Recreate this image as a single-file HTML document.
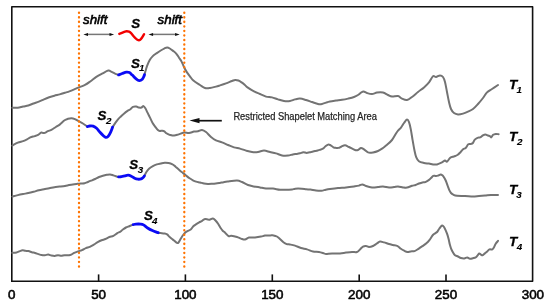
<!DOCTYPE html>
<html><head><meta charset="utf-8">
<style>
html,body{margin:0;padding:0;background:#fff;}
body{width:550px;height:306px;overflow:hidden;}
svg{display:block;}
.g{fill:none;stroke:#737373;stroke-width:2;stroke-linejoin:round;stroke-linecap:round;}
.b{fill:none;stroke:#0a0af5;stroke-width:2.8;stroke-linejoin:round;stroke-linecap:round;}
.ax{stroke:#111;stroke-width:1.6;fill:none;}
.tl{font-family:"Liberation Sans",Arial,sans-serif;font-size:13.4px;text-anchor:middle;fill:#000;stroke:#000;stroke-width:0.55px;}
.sh{font-family:"Liberation Sans",Arial,sans-serif;font-size:13.3px;font-style:italic;fill:#000;stroke:#000;stroke-width:0.6px;}
.lb{font-family:"Liberation Sans",Arial,sans-serif;font-size:13.3px;font-weight:bold;font-style:italic;fill:#000;stroke:#000;stroke-width:0.3px;}
.lb .sub{font-style:italic;}
.lt{font-family:"Liberation Sans",Arial,sans-serif;font-size:13.5px;font-weight:bold;font-style:italic;fill:#000;stroke:#000;stroke-width:0.3px;}
.lt .sub{font-style:italic;}
.sub{font-size:9.8px;font-style:normal;font-weight:bold;stroke-width:0.1px;}
.rs{font-family:"Liberation Sans",Arial,sans-serif;font-size:10px;fill:#262626;stroke:#262626;stroke-width:0.25px;}
.dot{stroke:#ff7300;stroke-width:2.3;stroke-dasharray:0.25 4.28;stroke-linecap:round;fill:none;}
</style></head>
<body>
<svg width="550" height="306" viewBox="0 0 550 306">
<rect x="0" y="0" width="550" height="306" fill="#fff"/>
<path d="M11.8 282 V6.8 H532.6 V281.2 H11.8" class="ax" stroke-width="1.8" stroke-linejoin="round"/>
<line x1="98.6" y1="274.4" x2="98.6" y2="281" class="ax" stroke-width="1.5"/>
<line x1="185.4" y1="274.4" x2="185.4" y2="281" class="ax" stroke-width="1.5"/>
<line x1="272.3" y1="274.4" x2="272.3" y2="281" class="ax" stroke-width="1.5"/>
<line x1="359.2" y1="274.4" x2="359.2" y2="281" class="ax" stroke-width="1.5"/>
<line x1="446.0" y1="274.4" x2="446.0" y2="281" class="ax" stroke-width="1.5"/>
<text x="11.7" y="298.5" class="tl">0</text>
<text x="98.6" y="298.5" class="tl">50</text>
<text x="185.4" y="298.5" class="tl">100</text>
<text x="272.3" y="298.5" class="tl">150</text>
<text x="359.2" y="298.5" class="tl">200</text>
<text x="446.0" y="298.5" class="tl">250</text>
<text x="532.9" y="298.5" class="tl">300</text>
<path class="g" d="M12.3 107.7 C13.22 107.70 16.00 107.90 17.8 107.7 C19.60 107.50 21.35 106.87 23.1 106.5 C24.85 106.13 26.57 106.00 28.3 105.5 C30.03 105.00 31.75 104.15 33.5 103.5 C35.25 102.85 37.05 102.30 38.8 101.6 C40.55 100.90 42.27 100.02 44 99.3 C45.73 98.58 47.47 97.90 49.2 97.3 C50.93 96.70 52.65 96.18 54.4 95.7 C56.15 95.22 57.95 94.88 59.7 94.4 C61.45 93.92 63.18 93.35 64.9 92.8 C66.62 92.25 67.65 92.02 70 91.1 C72.35 90.18 76.50 88.33 79 87.3 C81.50 86.27 83.07 85.92 85 84.9 C86.93 83.88 88.72 82.53 90.6 81.2 C92.48 79.87 94.40 78.15 96.3 76.9 C98.20 75.65 100.00 74.75 102 73.7 C104.00 72.65 106.72 70.92 108.3 70.6 C109.88 70.28 110.38 71.30 111.5 71.8 C112.62 72.30 113.82 73.08 115 73.6 C116.18 74.12 118.00 74.68 118.6 74.9"/>
<path class="g" d="M144.5 74.6 C144.62 74.18 144.78 73.50 145.2 72.1 C145.62 70.70 146.27 68.17 147 66.2 C147.73 64.23 148.63 61.98 149.6 60.3 C150.57 58.62 151.60 57.30 152.8 56.1 C154.00 54.90 155.48 54.03 156.8 53.1 C158.12 52.17 159.40 51.30 160.7 50.5 C162.00 49.70 163.52 48.80 164.6 48.3 C165.68 47.80 166.33 47.47 167.2 47.5 C168.07 47.53 168.82 47.93 169.8 48.5 C170.78 49.07 172.00 50.02 173.1 50.9 C174.20 51.78 175.42 52.67 176.4 53.8 C177.38 54.93 178.13 56.40 179 57.7 C179.87 59.00 180.73 59.97 181.6 61.6 C182.47 63.23 183.33 65.75 184.2 67.5 C185.07 69.25 185.82 70.58 186.8 72.1 C187.78 73.62 189.00 75.18 190.1 76.6 C191.20 78.02 191.75 79.20 193.4 80.6 C195.05 82.00 198.07 83.77 200 85 C201.93 86.23 203.33 87.50 205 88 C206.67 88.50 208.17 88.23 210 88 C211.83 87.77 214.33 87.03 216 86.6 C217.67 86.17 218.33 85.93 220 85.4 C221.67 84.87 224.00 84.13 226 83.4 C228.00 82.67 230.48 81.58 232 81 C233.52 80.42 234.03 79.98 235.1 79.9 C236.17 79.82 237.32 80.08 238.4 80.5 C239.48 80.92 240.52 81.65 241.6 82.4 C242.68 83.15 243.92 84.17 244.9 85 C245.88 85.83 245.98 86.33 247.5 87.4 C249.02 88.47 251.92 90.30 254 91.4 C256.08 92.50 258.00 93.13 260 94 C262.00 94.87 264.00 96.03 266 96.6 C268.00 97.17 270.00 96.93 272 97.4 C274.00 97.87 276.00 98.80 278 99.4 C280.00 100.00 282.00 100.73 284 101 C286.00 101.27 288.17 101.27 290 101 C291.83 100.73 293.33 99.80 295 99.4 C296.67 99.00 298.17 98.50 300 98.6 C301.83 98.70 304.00 99.43 306 100 C308.00 100.57 310.00 101.33 312 102 C314.00 102.67 316.33 103.67 318 104 C319.67 104.33 320.67 104.23 322 104 C323.33 103.77 324.67 103.02 326 102.6 C327.33 102.18 328.33 101.83 330 101.5 C331.67 101.17 334.00 100.88 336 100.6 C338.00 100.32 340.00 100.13 342 99.8 C344.00 99.47 346.00 99.07 348 98.6 C350.00 98.13 352.33 97.60 354 97 C355.67 96.40 356.83 95.73 358 95 C359.17 94.27 360.07 93.20 361 92.6 C361.93 92.00 362.60 91.33 363.6 91.4 C364.60 91.47 365.60 92.57 367 93 C368.40 93.43 370.33 94.07 372 94 C373.67 93.93 375.17 92.83 377 92.6 C378.83 92.37 381.17 92.20 383 92.6 C384.83 93.00 386.50 94.33 388 95 C389.50 95.67 390.33 96.43 392 96.6 C393.67 96.77 396.33 95.67 398 96 C399.67 96.33 400.50 97.93 402 98.6 C403.50 99.27 405.33 100.27 407 100 C408.67 99.73 410.17 98.33 412 97 C413.83 95.67 416.00 93.60 418 92 C420.00 90.40 422.17 89.00 424 87.4 C425.83 85.80 427.50 84.27 429 82.4 C430.50 80.53 431.83 77.10 433 76.2 C434.17 75.30 434.83 77.13 436 77 C437.17 76.87 438.83 75.40 440 75.4 C441.17 75.40 442.17 75.90 443 77 C443.83 78.10 444.33 79.50 445 82 C445.67 84.50 446.33 88.67 447 92 C447.67 95.33 448.33 99.17 449 102 C449.67 104.83 450.17 107.17 451 109 C451.83 110.83 452.83 112.10 454 113 C455.17 113.90 456.50 114.30 458 114.4 C459.50 114.50 461.33 114.07 463 113.6 C464.67 113.13 466.33 112.37 468 111.6 C469.67 110.83 471.33 110.27 473 109 C474.67 107.73 476.33 105.83 478 104 C479.67 102.17 481.50 99.93 483 98 C484.50 96.07 485.50 93.90 487 92.4 C488.50 90.90 490.17 90.23 492 89 C493.83 87.77 497.00 85.67 498 85"/>
<path class="b" d="M118.6 74.9 C119.20 74.67 120.88 73.97 122.2 73.5 C123.52 73.03 125.30 72.25 126.5 72.1 C127.70 71.95 128.43 72.10 129.4 72.6 C130.37 73.10 131.22 74.08 132.3 75.1 C133.38 76.12 134.73 77.77 135.9 78.7 C137.07 79.63 138.23 80.60 139.3 80.7 C140.37 80.80 141.52 80.05 142.3 79.3 C143.08 78.55 143.63 76.98 144 76.2 C144.37 75.42 144.42 74.87 144.5 74.6"/>
<path class="g" d="M12.3 145.6 C13.22 145.12 16.00 143.45 17.8 142.7 C19.60 141.95 21.57 141.65 23.1 141.1 C24.63 140.55 25.80 140.02 27 139.4 C28.20 138.78 29.00 137.95 30.3 137.4 C31.60 136.85 33.50 136.53 34.8 136.1 C36.10 135.67 37.00 135.40 38.1 134.8 C39.20 134.20 40.42 132.78 41.4 132.5 C42.38 132.22 42.92 133.32 44 133.1 C45.08 132.88 46.60 131.78 47.9 131.2 C49.20 130.62 50.48 130.30 51.8 129.6 C53.12 128.90 54.48 127.83 55.8 127 C57.12 126.17 58.23 125.72 59.7 124.6 C61.17 123.48 63.22 121.27 64.6 120.3 C65.98 119.33 66.87 119.15 68 118.8 C69.13 118.45 70.25 118.15 71.4 118.2 C72.55 118.25 73.65 118.57 74.9 119.1 C76.15 119.63 77.57 120.67 78.9 121.4 C80.23 122.13 81.48 122.63 82.9 123.5 C84.32 124.37 86.65 126.08 87.4 126.6"/>
<path class="g" d="M112.6 127.1 C113.08 126.35 114.60 123.90 115.5 122.6 C116.40 121.30 117.15 120.28 118 119.3 C118.85 118.32 119.62 117.63 120.6 116.7 C121.58 115.77 122.80 114.63 123.9 113.7 C125.00 112.77 126.12 111.85 127.2 111.1 C128.28 110.35 129.43 109.92 130.4 109.2 C131.37 108.48 132.02 107.25 133 106.8 C133.98 106.35 135.32 106.37 136.3 106.5 C137.28 106.63 138.03 107.43 138.9 107.6 C139.77 107.77 140.73 107.75 141.5 107.5 C142.27 107.25 142.83 105.93 143.5 106.1 C144.17 106.27 144.85 107.45 145.5 108.5 C146.15 109.55 146.65 110.88 147.4 112.4 C148.15 113.92 149.13 115.85 150 117.6 C150.87 119.35 151.72 121.37 152.6 122.9 C153.48 124.43 154.42 125.60 155.3 126.8 C156.18 128.00 157.15 129.40 157.9 130.1 C158.65 130.80 159.05 130.90 159.8 131 C160.55 131.10 161.63 130.63 162.4 130.7 C163.17 130.77 163.73 130.97 164.4 131.4 C165.07 131.83 165.63 132.77 166.4 133.3 C167.17 133.83 168.13 134.27 169 134.6 C169.87 134.93 170.73 135.13 171.6 135.3 C172.47 135.47 173.13 135.72 174.2 135.6 C175.27 135.48 176.37 135.10 178 134.6 C179.63 134.10 182.17 132.87 184 132.6 C185.83 132.33 187.33 133.17 189 133 C190.67 132.83 192.50 131.90 194 131.6 C195.50 131.30 196.67 131.47 198 131.2 C199.33 130.93 200.67 129.87 202 130 C203.33 130.13 204.50 130.83 206 132 C207.50 133.17 209.33 135.60 211 137 C212.67 138.40 214.17 139.50 216 140.4 C217.83 141.30 220.00 141.63 222 142.4 C224.00 143.17 226.00 144.17 228 145 C230.00 145.83 232.00 146.80 234 147.4 C236.00 148.00 238.00 148.07 240 148.6 C242.00 149.13 244.00 150.03 246 150.6 C248.00 151.17 250.00 151.77 252 152 C254.00 152.23 256.00 152.23 258 152 C260.00 151.77 262.00 150.60 264 150.6 C266.00 150.60 268.00 151.53 270 152 C272.00 152.47 274.00 152.83 276 153.4 C278.00 153.97 280.00 155.05 282 155.4 C284.00 155.75 286.20 155.67 288 155.5 C289.80 155.33 291.33 154.67 292.8 154.4 C294.27 154.13 295.60 154.08 296.8 153.9 C298.00 153.72 298.92 153.58 300 153.3 C301.08 153.02 302.20 152.27 303.3 152.2 C304.40 152.13 305.52 152.90 306.6 152.9 C307.68 152.90 308.72 152.42 309.8 152.2 C310.88 151.98 312.00 151.85 313.1 151.6 C314.20 151.35 315.32 150.98 316.4 150.7 C317.48 150.42 318.52 150.23 319.6 149.9 C320.68 149.57 321.92 149.30 322.9 148.7 C323.88 148.10 324.63 146.98 325.5 146.3 C326.37 145.62 327.33 144.82 328.1 144.6 C328.87 144.38 329.22 144.55 330.1 145 C330.98 145.45 332.42 146.82 333.4 147.3 C334.38 147.78 335.13 147.80 336 147.9 C336.87 148.00 337.73 148.10 338.6 147.9 C339.47 147.70 340.13 147.13 341.2 146.7 C342.27 146.27 343.70 145.25 345 145.3 C346.30 145.35 347.33 146.22 349 147 C350.67 147.78 353.50 149.50 355 150 C356.50 150.50 357.00 150.33 358 150 C359.00 149.67 360.00 148.10 361 148 C362.00 147.90 362.83 148.67 364 149.4 C365.17 150.13 366.50 151.90 368 152.4 C369.50 152.90 371.33 152.63 373 152.4 C374.67 152.17 376.33 151.73 378 151 C379.67 150.27 381.67 148.90 383 148 C384.33 147.10 384.50 146.93 386 145.6 C387.50 144.27 390.17 142.27 392 140 C393.83 137.73 395.50 134.07 397 132 C398.50 129.93 399.83 129.10 401 127.6 C402.17 126.10 403.00 124.33 404 123 C405.00 121.67 406.17 119.73 407 119.6 C407.83 119.47 408.37 120.57 409 122.2 C409.63 123.83 410.20 126.42 410.8 129.4 C411.40 132.38 412.00 136.67 412.6 140.1 C413.20 143.53 413.80 147.15 414.4 150 C415.00 152.85 415.45 155.32 416.2 157.2 C416.95 159.08 417.60 160.33 418.9 161.3 C420.20 162.27 422.32 162.62 424 163 C425.68 163.38 427.50 163.37 429 163.6 C430.50 163.83 431.67 164.27 433 164.4 C434.33 164.53 435.50 164.73 437 164.4 C438.50 164.07 440.67 163.07 442 162.4 C443.33 161.73 444.17 160.53 445 160.4 C445.83 160.27 446.17 162.02 447 161.6 C447.83 161.18 449.07 158.70 450 157.9 C450.93 157.10 451.73 157.12 452.6 156.8 C453.47 156.48 454.33 156.33 455.2 156 C456.07 155.67 456.92 155.43 457.8 154.8 C458.68 154.17 459.62 153.13 460.5 152.2 C461.38 151.27 462.23 149.92 463.1 149.2 C463.97 148.48 464.83 148.72 465.7 147.9 C466.57 147.08 467.43 144.95 468.3 144.3 C469.17 143.65 470.13 144.22 470.9 144 C471.67 143.78 472.25 143.73 472.9 143 C473.55 142.27 474.03 140.47 474.8 139.6 C475.57 138.73 476.62 138.17 477.5 137.8 C478.38 137.43 479.23 137.78 480.1 137.4 C480.97 137.02 481.83 135.98 482.7 135.5 C483.57 135.02 484.43 134.50 485.3 134.5 C486.17 134.50 487.13 135.23 487.9 135.5 C488.67 135.77 489.35 135.78 489.9 136.1 C490.45 136.42 490.67 137.62 491.2 137.4 C491.73 137.18 492.33 135.38 493.1 134.8 C493.87 134.22 494.88 134.00 495.8 133.9 C496.72 133.80 498.13 134.15 498.6 134.2"/>
<path class="b" d="M87.4 126.6 C87.78 126.50 88.75 126.07 89.7 126 C90.65 125.93 91.95 125.82 93.1 126.2 C94.25 126.58 95.45 127.28 96.6 128.3 C97.75 129.32 98.87 131.07 100 132.3 C101.13 133.53 102.45 134.85 103.4 135.7 C104.35 136.55 104.93 137.27 105.7 137.4 C106.47 137.53 107.23 137.25 108 136.5 C108.77 135.75 109.53 134.47 110.3 132.9 C111.07 131.33 112.22 128.07 112.6 127.1"/>
<path class="g" d="M12.3 196.6 C13.22 196.35 16.00 195.53 17.8 195.1 C19.60 194.67 21.35 194.33 23.1 194 C24.85 193.67 26.57 193.47 28.3 193.1 C30.03 192.73 31.75 192.28 33.5 191.8 C35.25 191.32 37.05 190.63 38.8 190.2 C40.55 189.77 42.27 189.52 44 189.2 C45.73 188.88 47.47 188.63 49.2 188.3 C50.93 187.97 52.65 187.48 54.4 187.2 C56.15 186.92 57.93 186.82 59.7 186.6 C61.47 186.38 63.47 186.15 65 185.9 C66.53 185.65 67.60 185.35 68.9 185.1 C70.20 184.85 71.48 184.60 72.8 184.4 C74.12 184.20 75.48 184.05 76.8 183.9 C78.12 183.75 79.40 183.60 80.7 183.5 C82.00 183.40 83.40 183.55 84.6 183.3 C85.80 183.05 86.82 182.43 87.9 182 C88.98 181.57 89.90 181.20 91.1 180.7 C92.30 180.20 93.78 179.62 95.1 179 C96.42 178.38 97.70 177.55 99 177 C100.30 176.45 101.60 176.07 102.9 175.7 C104.20 175.33 105.60 175.02 106.8 174.8 C108.00 174.58 109.00 174.30 110.1 174.4 C111.20 174.50 112.32 175.05 113.4 175.4 C114.48 175.75 115.73 176.25 116.6 176.5 C117.47 176.75 118.27 176.83 118.6 176.9"/>
<path class="g" d="M144.4 175.9 C144.73 175.25 145.63 173.20 146.4 172 C147.17 170.80 147.92 169.68 149 168.7 C150.08 167.72 151.60 166.82 152.9 166.1 C154.20 165.38 155.48 164.83 156.8 164.4 C158.12 163.97 159.48 163.77 160.8 163.5 C162.12 163.23 163.40 162.87 164.7 162.8 C166.00 162.73 167.30 162.83 168.6 163.1 C169.90 163.37 171.43 163.90 172.5 164.4 C173.57 164.90 174.33 165.57 175 166.1 C175.67 166.63 175.70 166.87 176.5 167.6 C177.30 168.33 178.70 169.58 179.8 170.5 C180.90 171.42 182.02 172.23 183.1 173.1 C184.18 173.97 185.22 174.83 186.3 175.7 C187.38 176.57 188.50 177.53 189.6 178.3 C190.70 179.07 191.82 179.75 192.9 180.3 C193.98 180.85 194.90 181.23 196.1 181.6 C197.30 181.97 198.78 182.18 200.1 182.5 C201.42 182.82 202.70 183.27 204 183.5 C205.30 183.73 206.60 183.85 207.9 183.9 C209.20 183.95 210.48 183.87 211.8 183.8 C213.12 183.73 214.48 183.65 215.8 183.5 C217.12 183.35 218.40 183.12 219.7 182.9 C221.00 182.68 222.30 182.42 223.6 182.2 C224.90 181.98 225.27 181.87 227.5 181.6 C229.73 181.33 234.58 180.53 237 180.6 C239.42 180.67 240.17 181.27 242 182 C243.83 182.73 246.00 184.27 248 185 C250.00 185.73 252.00 186.00 254 186.4 C256.00 186.80 258.00 187.07 260 187.4 C262.00 187.73 263.83 188.20 266 188.4 C268.17 188.60 270.67 188.38 273 188.6 C275.33 188.82 277.75 189.52 280 189.7 C282.25 189.88 284.50 189.72 286.5 189.7 C288.50 189.68 290.53 189.77 292 189.6 C293.47 189.43 293.67 188.85 295.3 188.7 C296.93 188.55 299.98 188.60 301.8 188.7 C303.62 188.80 304.75 189.15 306.2 189.3 C307.65 189.45 308.87 189.40 310.5 189.6 C312.13 189.80 314.18 190.32 316 190.5 C317.82 190.68 319.77 190.83 321.4 190.7 C323.03 190.57 324.37 189.98 325.8 189.7 C327.23 189.42 327.97 189.28 330 189 C332.03 188.72 335.33 188.27 338 188 C340.67 187.73 343.33 187.67 346 187.4 C348.67 187.13 351.83 186.70 354 186.4 C356.17 186.10 357.60 185.93 359 185.6 C360.40 185.27 361.23 184.33 362.4 184.4 C363.57 184.47 364.40 185.50 366 186 C367.60 186.50 370.00 187.23 372 187.4 C374.00 187.57 376.17 187.17 378 187 C379.83 186.83 381.17 186.33 383 186.4 C384.83 186.47 387.17 187.30 389 187.4 C390.83 187.50 392.50 187.17 394 187 C395.50 186.83 396.50 186.33 398 186.4 C399.50 186.47 401.50 187.20 403 187.4 C404.50 187.60 405.48 187.87 407 187.6 C408.52 187.33 410.67 186.23 412.1 185.8 C413.53 185.37 414.45 185.38 415.6 185 C416.75 184.62 417.87 183.93 419 183.5 C420.13 183.07 421.35 182.63 422.4 182.4 C423.45 182.17 424.25 182.48 425.3 182.1 C426.35 181.72 427.75 180.77 428.7 180.1 C429.65 179.43 430.23 178.80 431 178.1 C431.77 177.40 432.53 176.27 433.3 175.9 C434.07 175.53 434.83 175.95 435.6 175.9 C436.37 175.85 437.05 175.85 437.9 175.6 C438.75 175.35 439.95 174.45 440.7 174.4 C441.45 174.35 441.83 174.77 442.4 175.3 C442.97 175.83 443.52 176.65 444.1 177.6 C444.68 178.55 445.32 179.67 445.9 181 C446.48 182.33 447.03 184.08 447.6 185.6 C448.17 187.12 448.73 188.87 449.3 190.1 C449.87 191.33 450.33 192.23 451 193 C451.67 193.77 452.30 194.23 453.3 194.7 C454.30 195.17 455.05 195.58 457 195.8 C458.95 196.02 462.33 195.87 465 196 C467.67 196.13 470.67 196.60 473 196.6 C475.33 196.60 477.00 196.17 479 196 C481.00 195.83 483.00 195.77 485 195.6 C487.00 195.43 488.83 195.10 491 195 C493.17 194.90 496.83 195.00 498 195"/>
<path class="b" d="M118.6 176.9 C119.08 176.85 120.47 176.77 121.5 176.6 C122.53 176.43 123.70 176.13 124.8 175.9 C125.90 175.67 127.02 175.15 128.1 175.2 C129.18 175.25 130.22 175.68 131.3 176.2 C132.38 176.72 133.50 177.80 134.6 178.3 C135.70 178.80 136.82 179.10 137.9 179.2 C138.98 179.30 140.23 179.18 141.1 178.9 C141.97 178.62 142.55 178.00 143.1 177.5 C143.65 177.00 144.18 176.17 144.4 175.9"/>
<path class="g" d="M12.3 252.8 C13.00 252.73 15.25 252.68 16.5 252.4 C17.75 252.12 18.80 251.45 19.8 251.1 C20.80 250.75 21.58 250.35 22.5 250.3 C23.42 250.25 24.30 250.67 25.3 250.8 C26.30 250.93 27.42 250.87 28.5 251.1 C29.58 251.33 30.70 251.88 31.8 252.2 C32.90 252.52 34.00 252.68 35.1 253 C36.20 253.32 37.32 253.77 38.4 254.1 C39.48 254.43 40.52 254.82 41.6 255 C42.68 255.18 43.80 255.27 44.9 255.2 C46.00 255.13 47.12 254.55 48.2 254.6 C49.28 254.65 50.32 255.28 51.4 255.5 C52.48 255.72 53.60 255.95 54.7 255.9 C55.80 255.85 56.90 255.23 58 255.2 C59.10 255.17 60.22 255.70 61.3 255.7 C62.38 255.70 63.02 255.32 64.5 255.2 C65.98 255.08 68.58 255.38 70.2 255 C71.82 254.62 72.88 253.50 74.2 252.9 C75.52 252.30 76.80 251.87 78.1 251.4 C79.40 250.93 80.70 250.65 82 250.1 C83.30 249.55 84.60 248.65 85.9 248.1 C87.20 247.55 88.48 247.38 89.8 246.8 C91.12 246.22 92.48 245.37 93.8 244.6 C95.12 243.83 96.40 242.92 97.7 242.2 C99.00 241.48 100.30 240.83 101.6 240.3 C102.90 239.77 104.20 239.55 105.5 239 C106.80 238.45 108.08 237.52 109.4 237 C110.72 236.48 112.08 236.55 113.4 235.9 C114.72 235.25 116.20 233.78 117.3 233.1 C118.40 232.42 119.12 232.35 120 231.8 C120.88 231.25 121.62 230.52 122.6 229.8 C123.58 229.08 124.80 228.10 125.9 227.5 C127.00 226.90 128.12 226.63 129.2 226.2 C130.28 225.77 131.87 225.12 132.4 224.9"/>
<path class="g" d="M157.9 232.7 C158.33 232.77 159.42 232.97 160.5 233.1 C161.58 233.23 163.30 233.28 164.4 233.5 C165.50 233.72 166.22 233.82 167.1 234.4 C167.98 234.98 168.73 236.13 169.7 237 C170.67 237.87 171.82 238.72 172.9 239.6 C173.98 240.48 175.32 241.75 176.2 242.3 C177.08 242.85 177.42 243.53 178.2 242.9 C178.98 242.27 180.13 239.73 180.9 238.5 C181.67 237.27 182.15 236.43 182.8 235.5 C183.45 234.57 184.03 233.62 184.8 232.9 C185.57 232.18 186.42 231.75 187.4 231.2 C188.38 230.65 189.72 230.42 190.7 229.6 C191.68 228.78 192.43 227.17 193.3 226.3 C194.17 225.43 194.92 225.05 195.9 224.4 C196.88 223.75 198.22 222.95 199.2 222.4 C200.18 221.85 200.93 221.63 201.8 221.1 C202.67 220.57 203.42 219.48 204.4 219.2 C205.38 218.92 206.83 219.30 207.7 219.4 C208.57 219.50 208.73 219.95 209.6 219.8 C210.47 219.65 211.92 218.38 212.9 218.5 C213.88 218.62 214.63 219.63 215.5 220.5 C216.37 221.37 217.22 222.40 218.1 223.7 C218.98 225.00 220.03 227.13 220.8 228.3 C221.57 229.47 221.95 229.93 222.7 230.7 C223.45 231.47 224.32 232.00 225.3 232.9 C226.28 233.80 227.62 235.62 228.6 236.1 C229.58 236.58 229.80 235.65 231.2 235.8 C232.60 235.95 235.37 236.53 237 237 C238.63 237.47 239.67 238.17 241 238.6 C242.33 239.03 243.67 239.77 245 239.6 C246.33 239.43 247.33 237.97 249 237.6 C250.67 237.23 253.00 237.57 255 237.4 C257.00 237.23 259.33 236.90 261 236.6 C262.67 236.30 263.45 235.80 265 235.6 C266.55 235.40 268.87 235.43 270.3 235.4 C271.73 235.37 272.50 235.22 273.6 235.4 C274.70 235.58 275.80 235.87 276.9 236.5 C278.00 237.13 279.12 238.25 280.2 239.2 C281.28 240.15 282.32 241.38 283.4 242.2 C284.48 243.02 285.60 243.72 286.7 244.1 C287.80 244.48 288.62 244.25 290 244.5 C291.38 244.75 293.17 245.02 295 245.6 C296.83 246.18 299.00 247.37 301 248 C303.00 248.63 305.00 248.80 307 249.4 C309.00 250.00 311.00 251.17 313 251.6 C315.00 252.03 317.17 251.70 319 252 C320.83 252.30 322.83 253.07 324 253.4 C325.17 253.73 324.67 254.00 326 254 C327.33 254.00 329.67 253.50 332 253.4 C334.33 253.30 337.67 253.53 340 253.4 C342.33 253.27 344.00 252.83 346 252.6 C348.00 252.37 350.17 252.10 352 252 C353.83 251.90 355.67 252.43 357 252 C358.33 251.57 359.00 250.30 360 249.4 C361.00 248.50 362.00 247.17 363 246.6 C364.00 246.03 365.00 245.93 366 246 C367.00 246.07 367.83 247.00 369 247 C370.17 247.00 371.67 246.60 373 246 C374.33 245.40 375.83 244.13 377 243.4 C378.17 242.67 378.83 241.77 380 241.6 C381.17 241.43 382.50 242.00 384 242.4 C385.50 242.80 387.50 243.57 389 244 C390.50 244.43 391.57 244.65 393 245 C394.43 245.35 396.28 245.47 397.6 246.1 C398.92 246.73 399.80 248.03 400.9 248.8 C402.00 249.57 403.12 250.17 404.2 250.7 C405.28 251.23 406.32 251.88 407.4 252 C408.48 252.12 409.50 251.55 410.7 251.4 C411.90 251.25 413.30 251.53 414.6 251.1 C415.90 250.67 417.18 249.63 418.5 248.8 C419.82 247.97 421.18 247.02 422.5 246.1 C423.82 245.18 425.22 244.33 426.4 243.3 C427.58 242.27 428.52 241.28 429.6 239.9 C430.68 238.52 431.92 236.13 432.9 235 C433.88 233.87 434.73 233.68 435.5 233.1 C436.27 232.52 436.85 232.27 437.5 231.5 C438.15 230.73 438.63 229.50 439.4 228.5 C440.17 227.50 441.33 225.75 442.1 225.5 C442.87 225.25 443.35 226.07 444 227 C444.65 227.93 445.45 229.87 446 231.1 C446.55 232.33 446.87 233.08 447.3 234.4 C447.73 235.72 448.17 237.27 448.6 239 C449.03 240.73 449.47 243.17 449.9 244.8 C450.33 246.43 450.65 247.48 451.2 248.8 C451.75 250.12 452.57 251.63 453.2 252.7 C453.83 253.77 454.20 254.57 455 255.2 C455.80 255.83 457.02 256.03 458 256.5 C458.98 256.97 459.85 257.68 460.9 258 C461.95 258.32 463.25 258.50 464.3 258.4 C465.35 258.30 466.25 257.33 467.2 257.4 C468.15 257.47 469.05 258.67 470 258.8 C470.95 258.93 471.95 258.43 472.9 258.2 C473.85 257.97 474.95 257.82 475.7 257.4 C476.45 256.98 476.82 256.37 477.4 255.7 C477.98 255.03 478.62 253.58 479.2 253.4 C479.78 253.22 480.33 254.30 480.9 254.6 C481.47 254.90 481.93 255.40 482.6 255.2 C483.27 255.00 484.13 254.02 484.9 253.4 C485.67 252.78 486.43 252.17 487.2 251.5 C487.97 250.83 488.65 249.75 489.5 249.4 C490.35 249.05 491.55 249.77 492.3 249.4 C493.05 249.03 493.43 248.15 494 247.2 C494.57 246.25 495.03 244.75 495.7 243.7 C496.37 242.65 497.62 241.37 498 240.9"/>
<path class="b" d="M133.2 224.6 C133.65 224.52 134.67 224.18 135.9 224.1 C137.13 224.02 139.33 223.97 140.6 224.1 C141.87 224.23 142.33 224.25 143.5 224.9 C144.67 225.55 146.12 227.05 147.6 228 C149.08 228.95 150.82 229.87 152.4 230.6 C153.98 231.33 156.13 232.05 157.1 232.4 C158.07 232.75 158.02 232.65 158.2 232.7"/>
<line x1="79" y1="12.7" x2="79" y2="267.9" class="dot"/>
<line x1="184.3" y1="12.7" x2="184.3" y2="267.9" class="dot"/>
<path d="M119.3 33.9 C119.65 33.77 120.57 33.43 121.4 33.1 C122.23 32.77 123.43 32.22 124.3 31.9 C125.17 31.58 125.82 31.23 126.6 31.2 C127.38 31.17 128.22 31.33 129 31.7 C129.78 32.07 130.53 32.63 131.3 33.4 C132.07 34.17 132.83 35.43 133.6 36.3 C134.37 37.17 135.12 37.97 135.9 38.6 C136.68 39.23 137.58 39.90 138.3 40.1 C139.02 40.30 139.60 40.18 140.2 39.8 C140.80 39.42 141.37 38.55 141.9 37.8 C142.43 37.05 143.03 35.90 143.4 35.3 C143.77 34.70 143.98 34.38 144.1 34.2" fill="none" stroke="#f20000" stroke-width="2.4" stroke-linecap="round" stroke-linejoin="round"/>
<!-- shift arrows -->
<line x1="87" y1="34.4" x2="110.5" y2="34.4" stroke="#777" stroke-width="1.5"/>
<path d="M83.4 34.4 L88 32.9 L88 35.9 Z M114.1 34.4 L109.5 32.9 L109.5 35.9 Z" fill="#111"/>
<line x1="152" y1="34.4" x2="176" y2="34.4" stroke="#777" stroke-width="1.5"/>
<path d="M148.5 34.4 L153.1 32.9 L153.1 35.9 Z M179.7 34.4 L175.1 32.9 L175.1 35.9 Z" fill="#111"/>
<!-- long arrow -->
<line x1="196" y1="120.7" x2="221.8" y2="120.7" stroke="#111" stroke-width="1.7"/>
<path d="M189.5 120.6 L199.5 117.9 L199.5 123.3 Z" fill="#111"/>
<text x="83" y="24" class="sh">shift</text>
<text x="157.6" y="24" class="sh">shift</text>
<text x="131.2" y="28.2" class="lb">S</text>
<text x="131" y="67.8" class="lb">S<tspan class="sub" dx="-0.8" dy="3.6">1</tspan></text>
<text x="97.5" y="119.6" class="lb">S<tspan class="sub" dx="-0.3" dy="4.4">2</tspan></text>
<text x="129.2" y="168.8" class="lb">S<tspan class="sub" dx="-0.3" dy="4.3">3</tspan></text>
<text x="144" y="220.1" class="lb">S<tspan class="sub" dx="-0.8" dy="4.0">4</tspan></text>
<text x="509" y="89" class="lt">T<tspan class="sub" dx="-0.8" dy="3.7">1</tspan></text>
<text x="509" y="141" class="lt">T<tspan class="sub" dx="-0.3" dy="4.3">2</tspan></text>
<text x="509" y="194" class="lt">T<tspan class="sub" dx="-1.1" dy="3.8">3</tspan></text>
<text x="509" y="246" class="lt">T<tspan class="sub" dx="-0.6" dy="3.7">4</tspan></text>
<text x="233.4" y="120" class="rs" textLength="143.5" lengthAdjust="spacingAndGlyphs">Restricted Shapelet Matching Area</text>
</svg>
</body></html>
